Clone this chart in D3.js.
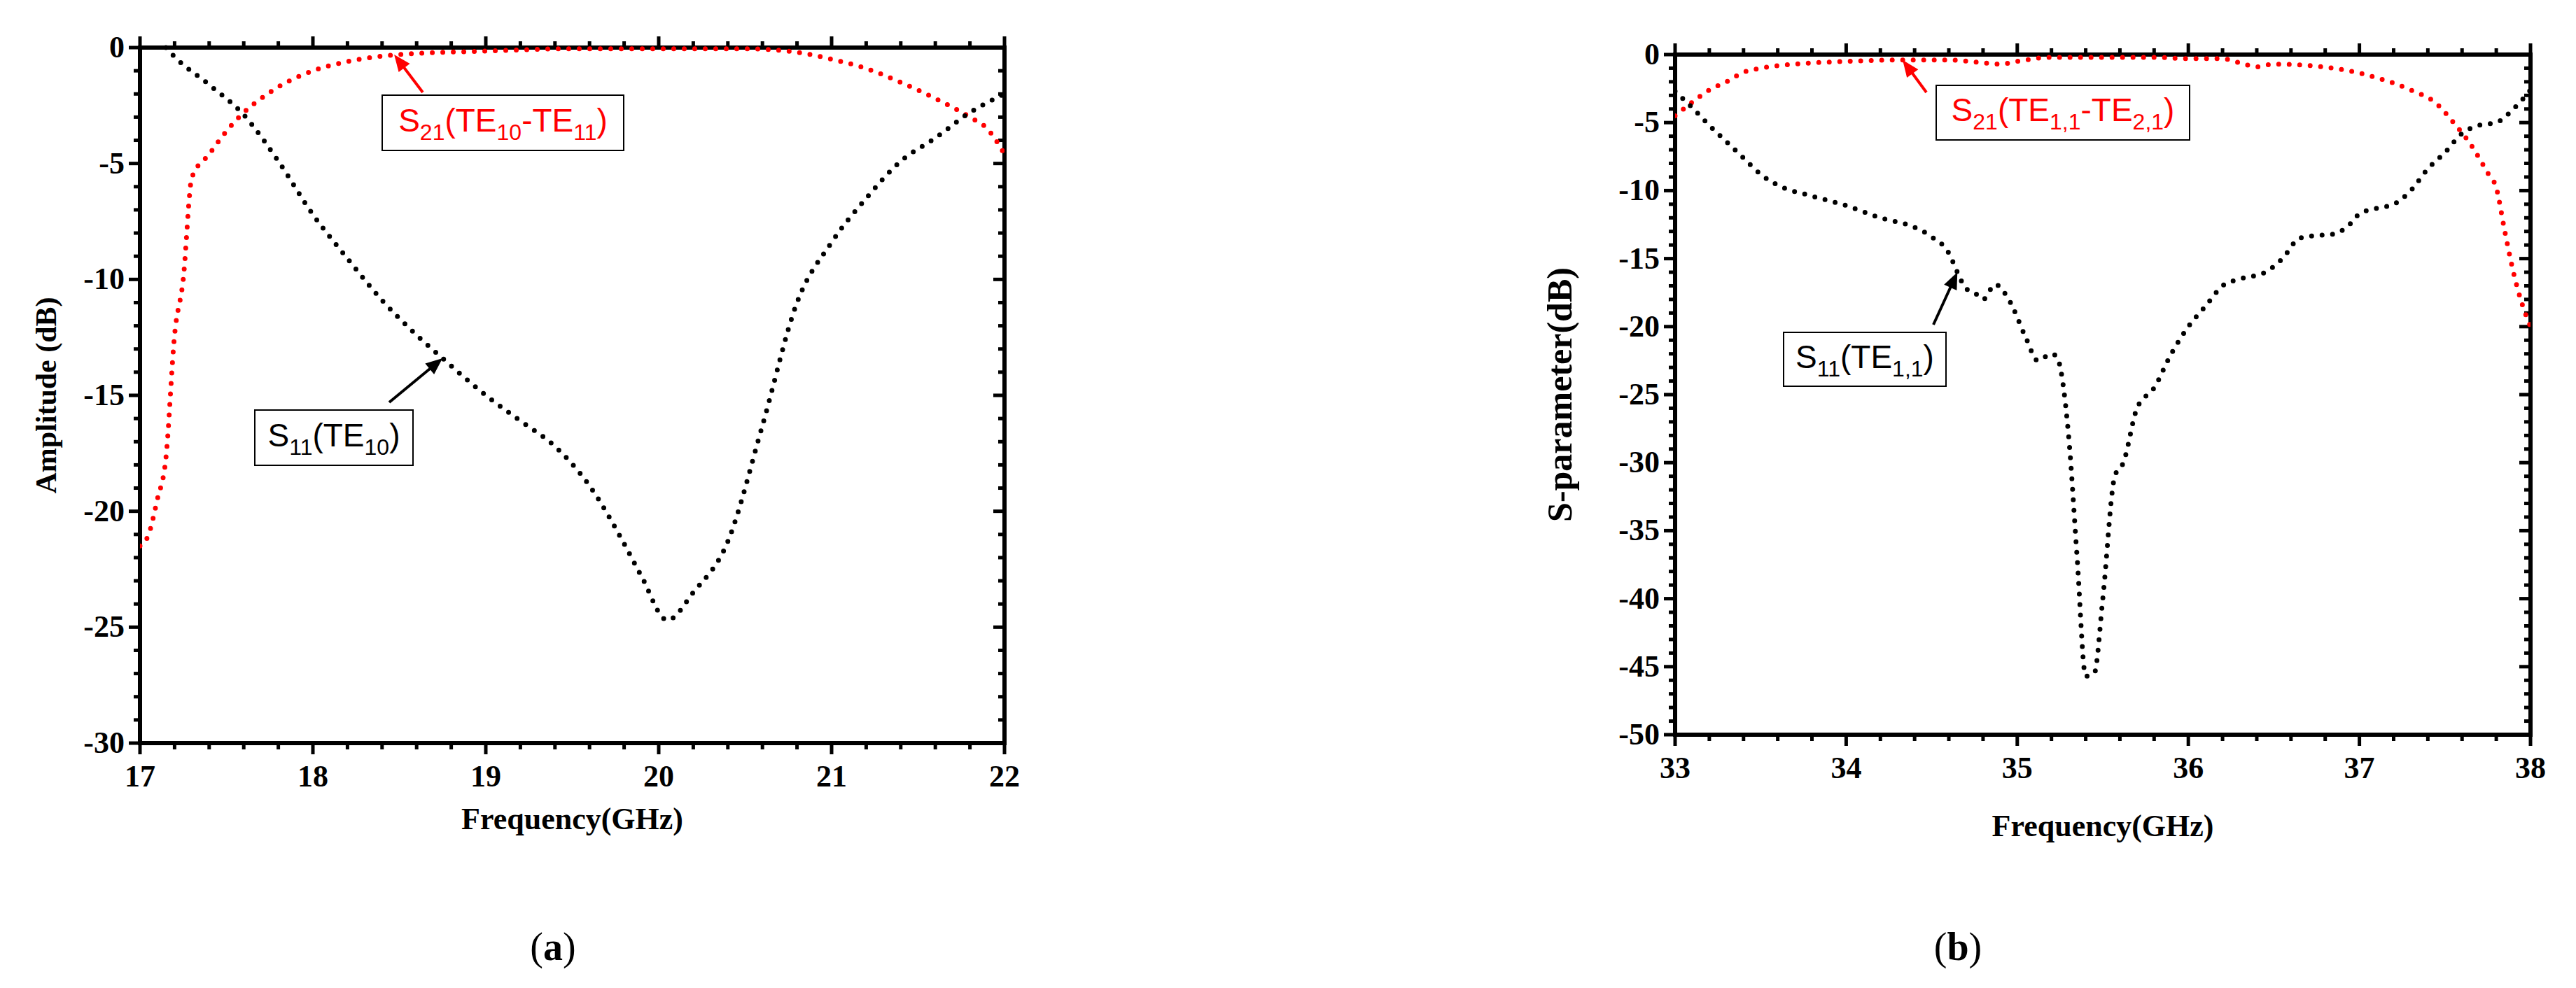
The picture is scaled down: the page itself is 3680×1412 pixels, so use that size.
<!DOCTYPE html><html><head><meta charset="utf-8">
<script src="https://cdn.jsdelivr.net/npm/d3@7"></script>
<style>body{margin:0;background:#fff}</style></head><body>
<svg id="c" width="3680" height="1412"></svg>
<script>
const aFreqS21=[17,17.05,17.1,17.15,17.2,17.25,17.3,17.4,17.5,17.6,17.7,17.8,18,18.2,18.5,19,19.5,20,20.5,20.8,21,21.2,21.4,21.6,21.8,21.9,22];
const aS21=[-21.5,-21,-19.5,-17.7,-12.4,-10,-5.6,-4.6,-3.6,-2.8,-2.2,-1.7,-1.0,-0.6,-0.3,-0.15,-0.05,-0.05,-0.05,-0.2,-0.5,-0.9,-1.5,-2.2,-3.0,-3.5,-4.6];
const aFreqS11=[17.15,17.2,17.4,17.6,17.8,18.0,18.2,18.4,18.6,18.75,19.0,19.2,19.4,19.6,19.8,19.9,20.05,20.2,20.4,20.6,20.8,21.0,21.2,21.4,21.6,21.8,22];
const aS11=[0,-0.4,-1.6,-2.9,-4.9,-7.2,-9.1,-10.9,-12.4,-13.4,-15.0,-16.1,-17.2,-18.9,-21.4,-22.8,-24.7,-23.5,-21.3,-16.3,-11.0,-8.4,-6.5,-4.9,-3.9,-2.8,-2.0];
const bFreqS21=[33,33.1,33.2,33.3,33.4,33.5,33.7,34,34.3,34.6,34.8,34.9,35,35.2,35.5,35.8,36,36.2,36.3,36.4,36.5,36.7,36.9,37.1,37.3,37.45,37.55,37.65,37.75,37.8,37.85,37.9,37.95,38];
const bS21=[-4.5,-3.5,-2.6,-2.0,-1.3,-1.0,-0.7,-0.5,-0.4,-0.4,-0.6,-0.7,-0.5,-0.2,-0.2,-0.2,-0.3,-0.3,-0.6,-0.9,-0.7,-0.8,-1.1,-1.7,-2.6,-3.6,-5,-6.6,-8.7,-9.8,-13,-16,-18.3,-20];
const bFreqS11=[33,33.1,33.2,33.3,33.4,33.5,33.6,33.8,34,34.2,34.4,34.5,34.6,34.65,34.7,34.75,34.8,34.87,34.95,35.05,35.12,35.2,35.23,35.3,35.35,35.4,35.45,35.5,35.57,35.62,35.7,35.8,35.9,36,36.1,36.2,36.3,36.45,36.55,36.65,36.75,36.85,36.95,37.0,37.1,37.2,37.3,37.4,37.5,37.6,37.7,37.8,37.9,38];
const bS11=[-2.7,-3.9,-5.2,-6.4,-7.6,-8.8,-9.6,-10.4,-11.1,-12,-12.7,-13.4,-14.6,-16,-17.2,-17.5,-18,-16.9,-18,-20.8,-22.5,-22,-22.2,-28,-37,-45.7,-45.5,-40,-31,-30,-26,-24.5,-22,-20,-18.5,-17,-16.5,-16,-15,-13.5,-13.3,-13.2,-12.4,-11.7,-11.3,-11,-10,-8.4,-7.2,-5.8,-5.2,-5,-4,-2.6];
const aXTicks=[17,18,19,20,21,22], aYTicks=[0,-5,-10,-15,-20,-25,-30];
const bXTicks=[33,34,35,36,37,38], bYTicks=[0,-5,-10,-15,-20,-25,-30,-35,-40,-45,-50];

const svg=d3.select("#c");
function panel(o){
  const g=svg.append("g");
  const x=d3.scaleLinear().domain(o.xd).range([o.x0,o.x1]);
  const y=d3.scaleLinear().domain(o.yd).range([o.y1,o.y0]);
  const clipId="cl"+o.id;
  g.append("clipPath").attr("id",clipId).append("rect").attr("x",o.x0).attr("y",o.y0-6).attr("width",o.x1-o.x0).attr("height",o.y1-o.y0+12);
  // minor ticks
  const xm=d3.range(o.xd[0],o.xd[1]+1e-9,0.2), ym=d3.range(o.yd[0],o.yd[1]+1e-9,1);
  const tk=g.append("g").attr("stroke","#000");
  xm.forEach(v=>{const maj=Math.abs(v-Math.round(v))<1e-6, L=maj?16:9;
    tk.append("line").attr("x1",x(v)).attr("x2",x(v)).attr("y1",o.y1).attr("y2",o.y1+L).attr("stroke-width",5);
    tk.append("line").attr("x1",x(v)).attr("x2",x(v)).attr("y1",o.y0).attr("y2",o.y0-L).attr("stroke-width",5);});
  ym.forEach(v=>{const maj=Math.abs(v%5)<1e-6, L=maj?16:9;
    tk.append("line").attr("y1",y(v)).attr("y2",y(v)).attr("x1",o.x0).attr("x2",o.x0-L).attr("stroke-width",5);
    tk.append("line").attr("y1",y(v)).attr("y2",y(v)).attr("x1",o.x1).attr("x2",o.x1-L).attr("stroke-width",5);});
  g.append("rect").attr("x",o.x0).attr("y",o.y0).attr("width",o.x1-o.x0).attr("height",o.y1-o.y0).attr("fill","none").attr("stroke","#000").attr("stroke-width",6);
  const font="'Liberation Serif','Times New Roman',serif";
  g.append("g").selectAll("text").data(o.xt).join("text").attr("x",d=>x(d)).attr("y",o.y1+62).attr("text-anchor","middle")
   .attr("font-family",font).attr("font-weight","bold").attr("font-size",44).text(d=>d);
  g.append("g").selectAll("text").data(o.yt).join("text").attr("x",o.x0-22).attr("y",d=>y(d)+14).attr("text-anchor","end")
   .attr("font-family",font).attr("font-weight","bold").attr("font-size",44).text(d=>d);
  g.append("text").attr("x",(o.x0+o.x1)/2).attr("y",o.xty).attr("text-anchor","middle").attr("font-family",font).attr("font-weight","bold").attr("font-size",44).text("Frequency(GHz)");
  g.append("text").attr("transform",`translate(${o.ytx},${(o.y0+o.y1)/2}) rotate(-90)`).attr("text-anchor","middle").attr("font-family",font).attr("font-weight","bold").attr("font-size",o.yts).text(o.ylab);
  const line=d3.line().x(d=>x(d[0])).y(d=>y(d[1])).curve(d3.curveMonotoneX);
  const cg=g.append("g").attr("clip-path",`url(#${clipId})`);
  o.series.forEach(s=>{
    cg.append("path").attr("d",line(d3.zip(s.f,s.v))).attr("fill","none").attr("stroke",s.c).attr("stroke-width",7).attr("stroke-linecap","round").attr("stroke-dasharray","0 15");
  });
  o.notes.forEach(n=>{
    g.append("rect").attr("x",n.bx).attr("y",n.by).attr("width",n.bw).attr("height",n.bh).attr("fill","#fff").attr("stroke","#000").attr("stroke-width",2);
    const t=g.append("text").attr("x",n.bx+n.bw/2).attr("y",n.by+n.bh/2+12).attr("text-anchor","middle").attr("font-family","'Liberation Sans',Arial,sans-serif").attr("font-size",46).attr("fill",n.c);
    n.parts.forEach(p=>{t.append("tspan").attr("font-size",p[1]?32:46).attr("dy",p[1]?12:(p.prev?-12:0)).text(p[0]);});
    // arrow
    const tx=x(n.ax), ty=y(n.ay);
    const ang=Math.atan2(ty-n.sy,tx-n.sx), hl=24, hw=10;
    g.append("line").attr("x1",n.sx).attr("y1",n.sy).attr("x2",tx-Math.cos(ang)*hl*0.8).attr("y2",ty-Math.sin(ang)*hl*0.8).attr("stroke",n.c).attr("stroke-width",4);
    const p1=[tx,ty],p2=[tx-hl*Math.cos(ang)+hw*Math.sin(ang),ty-hl*Math.sin(ang)-hw*Math.cos(ang)],p3=[tx-hl*Math.cos(ang)-hw*Math.sin(ang),ty-hl*Math.sin(ang)+hw*Math.cos(ang)];
    g.append("polygon").attr("points",[p1,p2,p3].map(p=>p.join(",")).join(" ")).attr("fill",n.c);
  });
}
function parts(arr){ // mark tspans following a subscript to shift back up
  const out=[];arr.forEach((p,i)=>{const q=p.slice();if(!p[1]&&i>0&&arr[i-1][1])q.prev=true;out.push(q);});return out;}
panel({id:"a",xd:[17,22],yd:[-30,0],x0:200,x1:1435,y0:68,y1:1062,xt:aXTicks,yt:aYTicks,xty:1185,ytx:80,yts:42,ylab:"Amplitude (dB)",
  series:[{f:aFreqS21,v:aS21,c:"#ff0000"},{f:aFreqS11,v:aS11,c:"#000"}],
  notes:[{bx:546,by:136,bw:345,bh:79,c:"#ff0000",parts:parts([["S"],["21",1],["(TE"],["10",1],["-TE"],["11",1],[")"]]),sx:604,sy:132,ax:18.47,ay:-0.3},
         {bx:364,by:586,bw:226,bh:79,c:"#000",parts:parts([["S"],["11",1],["(TE"],["10",1],[")"]]),sx:556,sy:575,ax:18.75,ay:-13.4}]});
panel({id:"b",xd:[33,38],yd:[-50,0],x0:2393,x1:3615,y0:78,y1:1050,xt:bXTicks,yt:bYTicks,xty:1195,ytx:2245,yts:50,ylab:"S-parameter(dB)",
  series:[{f:bFreqS21,v:bS21,c:"#ff0000"},{f:bFreqS11,v:bS11,c:"#000"}],
  notes:[{bx:2766,by:122,bw:362,bh:78,c:"#ff0000",parts:parts([["S"],["21",1],["(TE"],["1,1",1],["-TE"],["2,1",1],[")"]]),sx:2752,sy:132,ax:34.33,ay:-0.4},
         {bx:2548,by:475,bw:232,bh:77,c:"#000",parts:parts([["S"],["11",1],["(TE"],["1,1",1],[")"]]),sx:2762,sy:464,ax:34.65,ay:-16}]});
const ff="'Liberation Serif','Times New Roman',serif";
svg.append("text").attr("x",790).attr("y",1372).attr("text-anchor","middle").attr("font-family",ff).attr("font-size",56).html("(<tspan font-weight='bold'>a</tspan>)");
svg.append("text").attr("x",2797).attr("y",1372).attr("text-anchor","middle").attr("font-family",ff).attr("font-size",56).html("(<tspan font-weight='bold'>b</tspan>)");
</script></body></html>
